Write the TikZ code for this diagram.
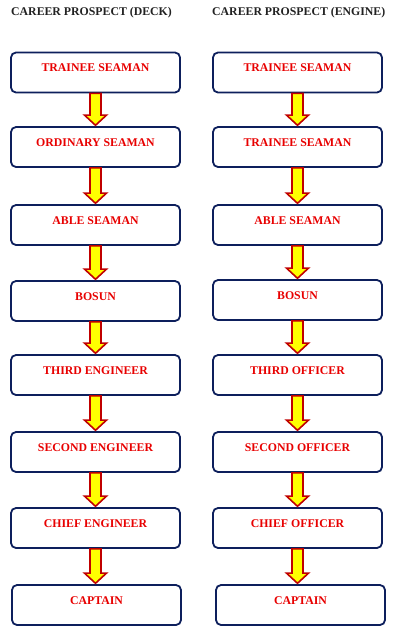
\documentclass[tikz,border=0pt]{standalone}
\usepackage{fontspec}
\setmainfont{Liberation Serif}
\usetikzlibrary{calc}
\definecolor{boxline}{HTML}{0D1F5C}
\definecolor{txtred}{HTML}{E80000}
\definecolor{arrred}{HTML}{C00000}
\definecolor{arryel}{HTML}{FFFF00}
\definecolor{hdr}{HTML}{222222}
\tikzset{
  rank/.style={draw=boxline, line width=1.8pt, rounded corners=5pt, fill=white,
    minimum width=169pt, inner xsep=0pt, inner ysep=0pt,
    text height=19pt, text depth=21pt, text=txtred,
    font=\fontsize{11.8}{13}\selectfont\bfseries},
  hdrtext/.style={anchor=west, inner sep=0pt, text=hdr,
    font=\fontsize{11.8}{13}\selectfont\bfseries},
  fatarr/.style={draw=arrred, fill=arryel, line width=1.6pt, line join=miter}
}
\newcommand\fatarrow[2]{%
  \path let \p1=(#1.south), \p2=(#2.north) in
    [fatarr] (\x1-5.5pt,\y1) -- (\x1+5.5pt,\y1) -- (\x1+5.5pt,\y2+11pt)
    -- (\x1+11pt,\y2+11pt) -- (\x1,\y2+0.8pt) -- (\x1-11pt,\y2+11pt)
    -- (\x1-5.5pt,\y2+11pt) -- cycle;}
\begin{document}
\begin{tikzpicture}[x=1pt,y=-1pt]
\useasboundingbox (0,0) rectangle (403,640);
\node[hdrtext] (h1) at (11,13) {CAREER PROSPECT (DECK)};
\node[hdrtext] (h2) at (212,13) {CAREER PROSPECT (ENGINE)};
% deck column
\node[rank] (d1) at (95.5,72.5) {TRAINEE SEAMAN};
\node[rank] (d2) at (95.5,147) {ORDINARY SEAMAN};
\node[rank] (d3) at (95.5,225) {ABLE SEAMAN};
\node[rank] (d4) at (95.5,301) {BOSUN};
\node[rank] (d5) at (95.5,375) {THIRD ENGINEER};
\node[rank] (d6) at (95.5,452) {SECOND ENGINEER};
\node[rank] (d7) at (95.5,528) {CHIEF ENGINEER};
\node[rank] (d8) at (96.5,605) {CAPTAIN};
% engine column
\node[rank] (e1) at (297.5,72.5) {TRAINEE SEAMAN};
\node[rank] (e2) at (297.5,147) {TRAINEE SEAMAN};
\node[rank] (e3) at (297.5,225) {ABLE SEAMAN};
\node[rank] (e4) at (297.5,300) {BOSUN};
\node[rank] (e5) at (297.5,375) {THIRD OFFICER};
\node[rank] (e6) at (297.5,452) {SECOND OFFICER};
\node[rank] (e7) at (297.5,528) {CHIEF OFFICER};
\node[rank] (e8) at (300.5,605) {CAPTAIN};
\fatarrow{d1}{d2}\fatarrow{d2}{d3}\fatarrow{d3}{d4}\fatarrow{d4}{d5}
\fatarrow{d5}{d6}\fatarrow{d6}{d7}\fatarrow{d7}{d8}
\fatarrow{e1}{e2}\fatarrow{e2}{e3}\fatarrow{e3}{e4}\fatarrow{e4}{e5}
\fatarrow{e5}{e6}\fatarrow{e6}{e7}\fatarrow{e7}{e8}
\end{tikzpicture}
\end{document}
